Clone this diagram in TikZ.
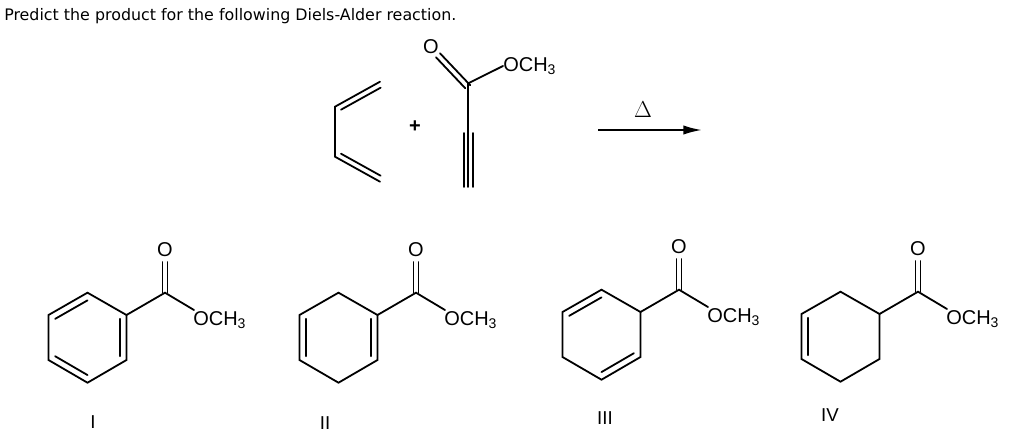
\documentclass[tikz,border=0pt]{standalone}
\usepackage{fontspec}
\setmainfont{Liberation Sans}
\newfontfamily\titlefont{DejaVu Sans}
\usetikzlibrary{calc,arrows.meta}
\begin{document}
\begin{tikzpicture}[x=0.75pt,y=-0.75pt,
  bond/.style={line width=1.35pt,line cap=round},
  lbl/.style={inner sep=0pt,font=\fontsize{15}{17}\selectfont},
  num/.style={inner sep=0pt,font=\fontsize{14}{16}\selectfont}]
\useasboundingbox (0,0) rectangle (1024,447);
\node[anchor=west,inner sep=0pt,font=\titlefont\fontsize{11.9}{14}\selectfont] (title) at (4,16) {Predict the product for the following Diels-Alder reaction.};
% ---- reactants
\coordinate (d1) at (380,81.7); \coordinate (d2) at (335,106.7);
\coordinate (d3) at (335,156.7); \coordinate (d4) at (380,181.7);
\coordinate (dc) at (385,131.7);
\draw[bond] (d1)--(d2)--(d3)--(d4);
\draw[bond] ($(d1)!0.12!(dc)$)--($(d2)!0.12!(dc)$);
\draw[bond] ($(d3)!0.12!(dc)$)--($(d4)!0.12!(dc)$);
\node[inner sep=0pt,font=\bfseries\fontsize{15}{17}\selectfont] (plus) at (415,126.7) {+};
\coordinate (ac) at (468.3,83.3);
\node[lbl] (ao) at (431,47) {O};
\node[lbl,anchor=west] (aome) at (503,66) {OCH\textsubscript{3}};
\draw[bond] ($(ac)+(2,2)$)--($(ao.south east)+(1,-1)$);
\draw[bond] ($(ac)+(-3,5)$)--($(ao.south east)+(-3,3)$);
\draw[bond] (ac)--(aome.west);
\draw[bond] (ac)--(468.3,187);
\draw[bond] (463.8,133)--(463.8,187);
\draw[bond] (472.8,133)--(472.8,187);
\node[font=\fontsize{16}{18}\selectfont,inner sep=0pt] (delta) at (643,110) {$\Delta$};
\coordinate (arS) at (598,130); \coordinate (arE) at (702,130);
\draw[line width=1.5pt,-{Latex[length=14pt,width=7pt]}] (arS)--(arE);
% Product I
\begin{scope}
\coordinate (c) at (87.5,337.7);
\coordinate (t) at (87.5,292.7); \coordinate (ur) at (126.5,315); \coordinate (lr) at (126.5,360);
\coordinate (b) at (87.5,382.7); \coordinate (ll) at (48.5,360); \coordinate (ul) at (48.5,315);
\draw[bond] (t)--(ur)--(lr)--(b)--(ll)--(ul)--cycle;
\foreach \p/\q in {ul/t, ur/lr, b/ll}
  \draw[bond] ($(\p)!0.17!(c)$)--($(\q)!0.17!(c)$);
\coordinate (cc) at (165,292.7);
\node[lbl] (o1) at (165,250) {O};
\node[lbl,anchor=west] (m1) at (193,320) {OCH\textsubscript{3}};
\draw[bond] (ur)--(cc)--(194,310);
\draw[bond] (162.5,292.7)--(162.5,262); \draw[bond] (167.5,292.7)--(167.5,262);
\node[num] (n1) at (93,422) {I};
\end{scope}
% Product II
\begin{scope}[shift={(251,0)}]
\coordinate (c) at (87.5,337.7);
\coordinate (t) at (87.5,292.7); \coordinate (ur) at (126.5,315); \coordinate (lr) at (126.5,360);
\coordinate (b) at (87.5,382.7); \coordinate (ll) at (48.5,360); \coordinate (ul) at (48.5,315);
\draw[bond] (t)--(ur)--(lr)--(b)--(ll)--(ul)--cycle;
\foreach \p/\q in {ur/lr, ll/ul}
  \draw[bond] ($(\p)!0.17!(c)$)--($(\q)!0.17!(c)$);
\coordinate (cc) at (165,292.7);
\node[lbl] (o2) at (165,250) {O};
\node[lbl,anchor=west] (m2) at (193,320) {OCH\textsubscript{3}};
\draw[bond] (ur)--(cc)--(194,310);
\draw[bond] (162.5,292.7)--(162.5,262); \draw[bond] (167.5,292.7)--(167.5,262);
\node[num] (n2) at (74,423) {II};
\end{scope}
% Product III
\begin{scope}[shift={(514,-3)}]
\coordinate (c) at (87.5,337.7);
\coordinate (t) at (87.5,292.7); \coordinate (ur) at (126.5,315); \coordinate (lr) at (126.5,360);
\coordinate (b) at (87.5,382.7); \coordinate (ll) at (48.5,360); \coordinate (ul) at (48.5,315);
\draw[bond] (t)--(ur)--(lr)--(b)--(ll)--(ul)--cycle;
\foreach \p/\q in {ul/t, lr/b}
  \draw[bond] ($(\p)!0.17!(c)$)--($(\q)!0.17!(c)$);
\coordinate (cc) at (165,292.7);
\node[lbl] (o3) at (165,250) {O};
\node[lbl,anchor=west] (m3) at (193,320) {OCH\textsubscript{3}};
\draw[bond] (ur)--(cc)--(194,310);
\draw[bond] (162.5,292.7)--(162.5,262); \draw[bond] (167.5,292.7)--(167.5,262);
\node[num] (n3) at (91,421) {III};
\end{scope}
% Product IV
\begin{scope}[shift={(753,-1)}]
\coordinate (c) at (87.5,337.7);
\coordinate (t) at (87.5,292.7); \coordinate (ur) at (126.5,315); \coordinate (lr) at (126.5,360);
\coordinate (b) at (87.5,382.7); \coordinate (ll) at (48.5,360); \coordinate (ul) at (48.5,315);
\draw[bond] (t)--(ur)--(lr)--(b)--(ll)--(ul)--cycle;
\foreach \p/\q in {ll/ul}
  \draw[bond] ($(\p)!0.17!(c)$)--($(\q)!0.17!(c)$);
\coordinate (cc) at (165,292.7);
\node[lbl] (o4) at (165,250) {O};
\node[lbl,anchor=west] (m4) at (193,320) {OCH\textsubscript{3}};
\draw[bond] (ur)--(cc)--(194,310);
\draw[bond] (162.5,292.7)--(162.5,262); \draw[bond] (167.5,292.7)--(167.5,262);
\node[num] (n4) at (77,416) {IV};
\end{scope}
\end{tikzpicture}
\end{document}
